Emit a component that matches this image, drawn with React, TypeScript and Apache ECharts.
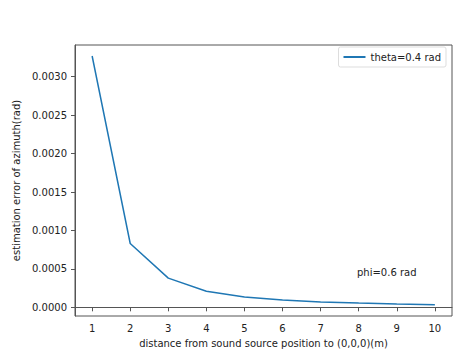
import React, { useEffect, useRef } from "react";
import * as echarts from "echarts";

const distances = [1, 2, 3, 4, 5, 6, 7, 8, 9, 10];
const errors = [0.00327, 0.00083, 0.00038, 0.00021, 0.000135, 0.000095, 0.00007, 0.000055, 0.000043, 0.000034];
const yTicks = [0, 0.0005, 0.001, 0.0015, 0.002, 0.0025, 0.003];
const seriesName = "theta=0.4 rad";
const annotation = "phi=0.6 rad";
const xName = "distance from sound source position to (0,0,0)(m)";
const yName = "estimation error of azimuth(rad)";

const FONT = "DejaVu Sans";
const frame = "#555";

export default function App() {
  const ref = useRef<HTMLDivElement>(null);
  useEffect(() => {
    if (!ref.current) return;
    const chart = echarts.init(ref.current, null, { renderer: "svg" });
    chart.setOption({
      animation: false,
      backgroundColor: "#fff",
      grid: { left: 75, right: 22, top: 45, bottom: 40, show: true, borderColor: frame, borderWidth: 1, backgroundColor: "transparent" },
      legend: {
        right: 28,
        top: 47,
        data: [{ name: seriesName, icon: "rect" }],
        itemWidth: 22,
        itemHeight: 2,
        itemGap: 6,
        padding: [5, 5, 5, 5],
        borderColor: "#ddd",
        borderWidth: 1,
        borderRadius: 2,
        textStyle: { fontFamily: FONT, fontSize: 10, color: "#222" },
      },
      xAxis: {
        type: "value",
        min: 0.55,
        max: 10.45,
        name: xName,
        nameLocation: "middle",
        nameGap: 22,
        nameTextStyle: { fontFamily: FONT, fontSize: 10, color: "#222" },
        axisLine: { show: true, lineStyle: { color: frame, width: 1 } },
        axisTick: { show: true, inside: false, length: 4, customValues: distances, lineStyle: { color: frame } },
        axisLabel: { customValues: distances, margin: 7, fontFamily: FONT, fontSize: 10, color: "#222" },
        splitLine: { show: false },
      },
      yAxis: {
        type: "value",
        min: -0.000113,
        max: 0.003413,
        name: yName,
        nameLocation: "middle",
        nameGap: 50,
        nameRotate: 90,
        nameTextStyle: { fontFamily: FONT, fontSize: 10, color: "#222" },
        axisLine: { show: true, lineStyle: { color: frame, width: 1 } },
        axisTick: { show: true, inside: false, length: 4, customValues: yTicks, lineStyle: { color: frame } },
        axisLabel: {
          customValues: yTicks,
          margin: 8,
          fontFamily: FONT,
          fontSize: 10,
          color: "#222",
          formatter: (v: number) => v.toFixed(4),
        },
        splitLine: { show: false },
      },
      graphic: [
        {
          type: "text",
          left: 357,
          top: 267,
          style: { text: annotation, fontFamily: FONT, fontSize: 10, fill: "#222" },
        },
      ],
      series: [
        {
          name: seriesName,
          type: "line",
          data: distances.map((d, i) => [d, errors[i]]),
          showSymbol: false,
          symbol: "none",
          lineStyle: { color: "#1f77b4", width: 1.5 },
          itemStyle: { color: "#1f77b4" },
        },
      ],
    });
    return () => chart.dispose();
  }, []);
  return <div ref={ref} style={{ width: 474, height: 356, position: "absolute", left: 0, top: 0 }} />;
}
